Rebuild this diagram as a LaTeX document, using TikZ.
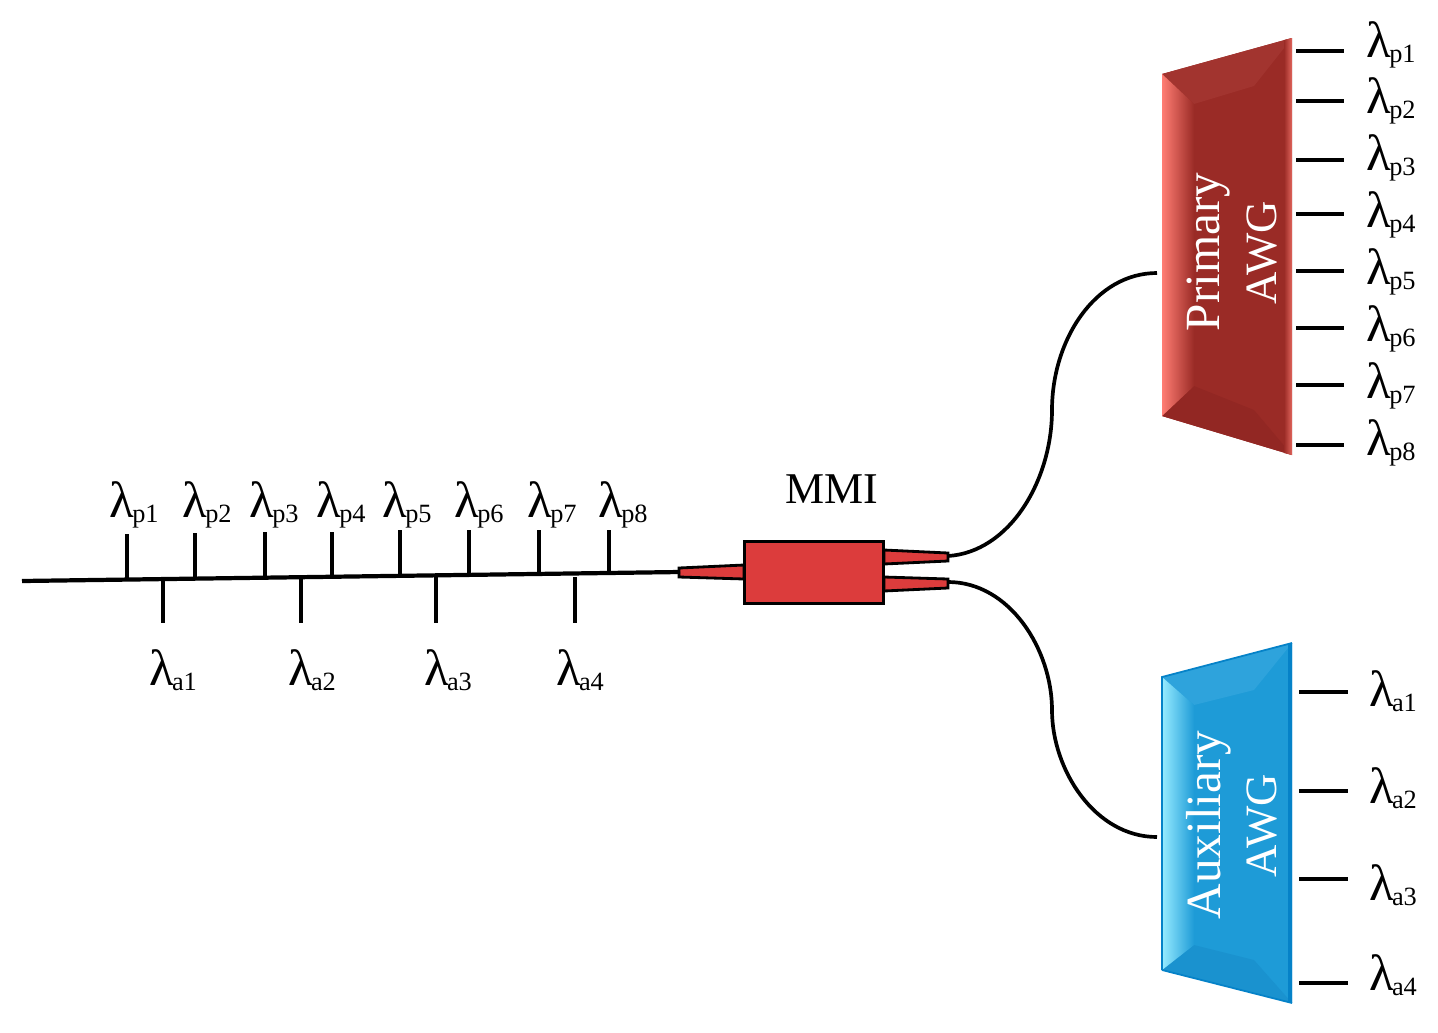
\documentclass[tikz,border=0pt]{standalone}
\usepackage{fontspec}
\usepackage{xcolor}
\setmainfont{Liberation Serif}
\definecolor{awgred}{RGB}{154, 43, 38}
\definecolor{awgredtop}{RGB}{162, 52, 47}
\definecolor{awgredlow}{RGB}{146, 39, 35}
\definecolor{awgredlight}{RGB}{255, 125, 115}
\definecolor{awgblue}{RGB}{30, 155, 215}
\definecolor{awgbluetop}{RGB}{46, 163, 220}
\definecolor{awgbluelow}{RGB}{26, 146, 207}
\definecolor{awgbluelight}{RGB}{150, 235, 255}
\definecolor{awgblueedge}{RGB}{5, 130, 200}
\definecolor{mmired}{RGB}{220, 60, 60}
\newcommand{\lam}[1]{{\fontsize{29}{29}\selectfont λ}\raisebox{-3pt}{\fontsize{15}{15}\selectfont\kern-1pt #1}}
\tikzset{
  lamlabel/.style={inner sep=0pt},
  tickline/.style={line width=2.4pt},
  outline/.style={line width=1.6pt, line cap=round},
  fiberline/.style={line width=2.1pt},
  awgtext/.style={white, rotate=90, inner sep=0pt, font=\fontsize{28}{28}\selectfont},
  awgsmall/.style={white, rotate=90, inner sep=0pt, font=\fontsize{25.5}{25.5}\selectfont},
}
\begin{document}
\begin{tikzpicture}[x=0.02cm, y=-0.02cm]
  \useasboundingbox (0,0) rectangle (1438,1032);

  % Primary AWG
  \fill[awgred] (1162,74) -- (1292,38) -- (1292,455) -- (1162,416) -- cycle;
  \fill[awgredtop] (1162,74) -- (1292,38) -- (1254,86) -- (1194,104) -- cycle;
  \fill[awgredlow] (1162,416) -- (1292,455) -- (1254,410) -- (1194,386) -- cycle;
  \shade[left color=awgredlight, right color=awgred] (1162,74) -- (1194,104) -- (1194,386) -- (1162,416) -- cycle;
  \shade[left color=awgred, right color=awgredlight!70!awgred] (1284,40) -- (1292,38) -- (1292,455) -- (1284,453) -- cycle;
  \node[awgtext] (primary) at (1209,252) {Primary};
  \node[awgsmall] (primaryawg) at (1262,253) {AWG};
  \coordinate (primaryin) at (1157,273);

  % Auxiliary AWG
  \fill[awgblue] (1162,677) -- (1292,643) -- (1292,1003) -- (1162,970) -- cycle;
  \fill[awgbluetop] (1162,677) -- (1292,643) -- (1254,690) -- (1194,705) -- cycle;
  \fill[awgbluelow] (1162,970) -- (1292,1003) -- (1254,960) -- (1194,945) -- cycle;
  \shade[left color=awgbluelight, right color=awgblue] (1162,677) -- (1194,705) -- (1194,945) -- (1162,970) -- cycle;
  \fill[awgblueedge] (1288,644) -- (1292,643) -- (1292,1003) -- (1288,1002) -- cycle;
  \draw[awgblueedge, line width=1pt] (1162,970) -- (1162,677) -- (1292,643);
  \draw[awgblueedge, line width=1pt] (1162,970) -- (1292,1003);
  \node[awgtext] (auxiliary) at (1209,825) {Auxiliary};
  \node[awgsmall] (auxiliaryawg) at (1262,826) {AWG};
  \coordinate (auxiliaryin) at (1157,837);

  % MMI with tapers
  \draw[outline, fill=mmired] (679,568) -- (744,565) -- (744,579) -- (679,577) -- cycle;
  \draw[outline, fill=mmired] (884,550) -- (948,553) -- (948,561) -- (884,564) -- cycle;
  \draw[outline, fill=mmired] (884,577) -- (948,579) -- (948,588) -- (884,591) -- cycle;
  \node[draw, line width=1.6pt, fill=mmired, minimum width=2.78cm, minimum height=1.24cm, inner sep=0pt] (mmi) at (814,572.5) {};
  \node[inner sep=0pt, font=\fontsize{25}{25}\selectfont] (mmilabel) at (832,489) {MMI};
  \coordinate (mmiin) at (680,572);
  \coordinate (mmiupper) at (948,556);
  \coordinate (mmilower) at (948,582);

  % Fibers to the AWGs
  \draw[fiberline] (mmiupper) .. controls (1010,552) and (1052,480) .. (1052,410) .. controls (1052,340) and (1095,273) .. (primaryin);
  \draw[fiberline] (mmilower) .. controls (1010,582) and (1052,650) .. (1052,710) .. controls (1052,770) and (1095,837) .. (auxiliaryin);

  % Bus waveguide
  \coordinate (busstart) at (22,581);
  \draw[tickline] (busstart) -- (mmiin);

  % Primary channels on the bus
  \coordinate (bp1) at (127,579); \draw[tickline] (bp1) -- ++(0,-45); \node[lamlabel] (tp1) at (134,505) {\lam{p1}};
  \coordinate (bp2) at (195,578); \draw[tickline] (bp2) -- ++(0,-45); \node[lamlabel] (tp2) at (207,505) {\lam{p2}};
  \coordinate (bp3) at (265,577); \draw[tickline] (bp3) -- ++(0,-45); \node[lamlabel] (tp3) at (274,505) {\lam{p3}};
  \coordinate (bp4) at (332,576); \draw[tickline] (bp4) -- ++(0,-44); \node[lamlabel] (tp4) at (341,505) {\lam{p4}};
  \coordinate (bp5) at (400,575); \draw[tickline] (bp5) -- ++(0,-45); \node[lamlabel] (tp5) at (407,505) {\lam{p5}};
  \coordinate (bp6) at (469,574); \draw[tickline] (bp6) -- ++(0,-44); \node[lamlabel] (tp6) at (479,505) {\lam{p6}};
  \coordinate (bp7) at (539,573); \draw[tickline] (bp7) -- ++(0,-43); \node[lamlabel] (tp7) at (552,505) {\lam{p7}};
  \coordinate (bp8) at (609,573); \draw[tickline] (bp8) -- ++(0,-43); \node[lamlabel] (tp8) at (623,505) {\lam{p8}};

  % Auxiliary channels on the bus
  \coordinate (ba1) at (163,579); \draw[tickline] (ba1) -- ++(0,44); \node[lamlabel] (ta1) at (173,670) {\lam{a1}};
  \coordinate (ba2) at (301,577); \draw[tickline] (ba2) -- ++(0,46); \node[lamlabel] (ta2) at (312,670) {\lam{a2}};
  \coordinate (ba3) at (436,575); \draw[tickline] (ba3) -- ++(0,48); \node[lamlabel] (ta3) at (448,670) {\lam{a3}};
  \coordinate (ba4) at (575,577); \draw[tickline] (ba4) -- ++(0,46); \node[lamlabel] (ta4) at (580,670) {\lam{a4}};

  % Primary AWG outputs
  \coordinate (op1) at (1296,51);  \draw[tickline] (op1) -- ++(48,0); \node[lamlabel] (rp1) at (1391,45)  {\lam{p1}};
  \coordinate (op2) at (1296,101); \draw[tickline] (op2) -- ++(48,0); \node[lamlabel] (rp2) at (1391,101) {\lam{p2}};
  \coordinate (op3) at (1296,160); \draw[tickline] (op3) -- ++(48,0); \node[lamlabel] (rp3) at (1391,158) {\lam{p3}};
  \coordinate (op4) at (1296,214); \draw[tickline] (op4) -- ++(48,0); \node[lamlabel] (rp4) at (1391,215) {\lam{p4}};
  \coordinate (op5) at (1296,271); \draw[tickline] (op5) -- ++(48,0); \node[lamlabel] (rp5) at (1391,272) {\lam{p5}};
  \coordinate (op6) at (1296,328); \draw[tickline] (op6) -- ++(48,0); \node[lamlabel] (rp6) at (1391,329) {\lam{p6}};
  \coordinate (op7) at (1296,385); \draw[tickline] (op7) -- ++(48,0); \node[lamlabel] (rp7) at (1391,386) {\lam{p7}};
  \coordinate (op8) at (1296,445); \draw[tickline] (op8) -- ++(48,0); \node[lamlabel] (rp8) at (1391,443) {\lam{p8}};

  % Auxiliary AWG outputs
  \coordinate (oa1) at (1299,692); \draw[tickline] (oa1) -- ++(49,0); \node[lamlabel] (ra1) at (1393,691) {\lam{a1}};
  \coordinate (oa2) at (1299,791); \draw[tickline] (oa2) -- ++(49,0); \node[lamlabel] (ra2) at (1393,788) {\lam{a2}};
  \coordinate (oa3) at (1299,879); \draw[tickline] (oa3) -- ++(49,0); \node[lamlabel] (ra3) at (1393,885) {\lam{a3}};
  \coordinate (oa4) at (1299,983); \draw[tickline] (oa4) -- ++(49,0); \node[lamlabel] (ra4) at (1393,975) {\lam{a4}};
\end{tikzpicture}
\end{document}
